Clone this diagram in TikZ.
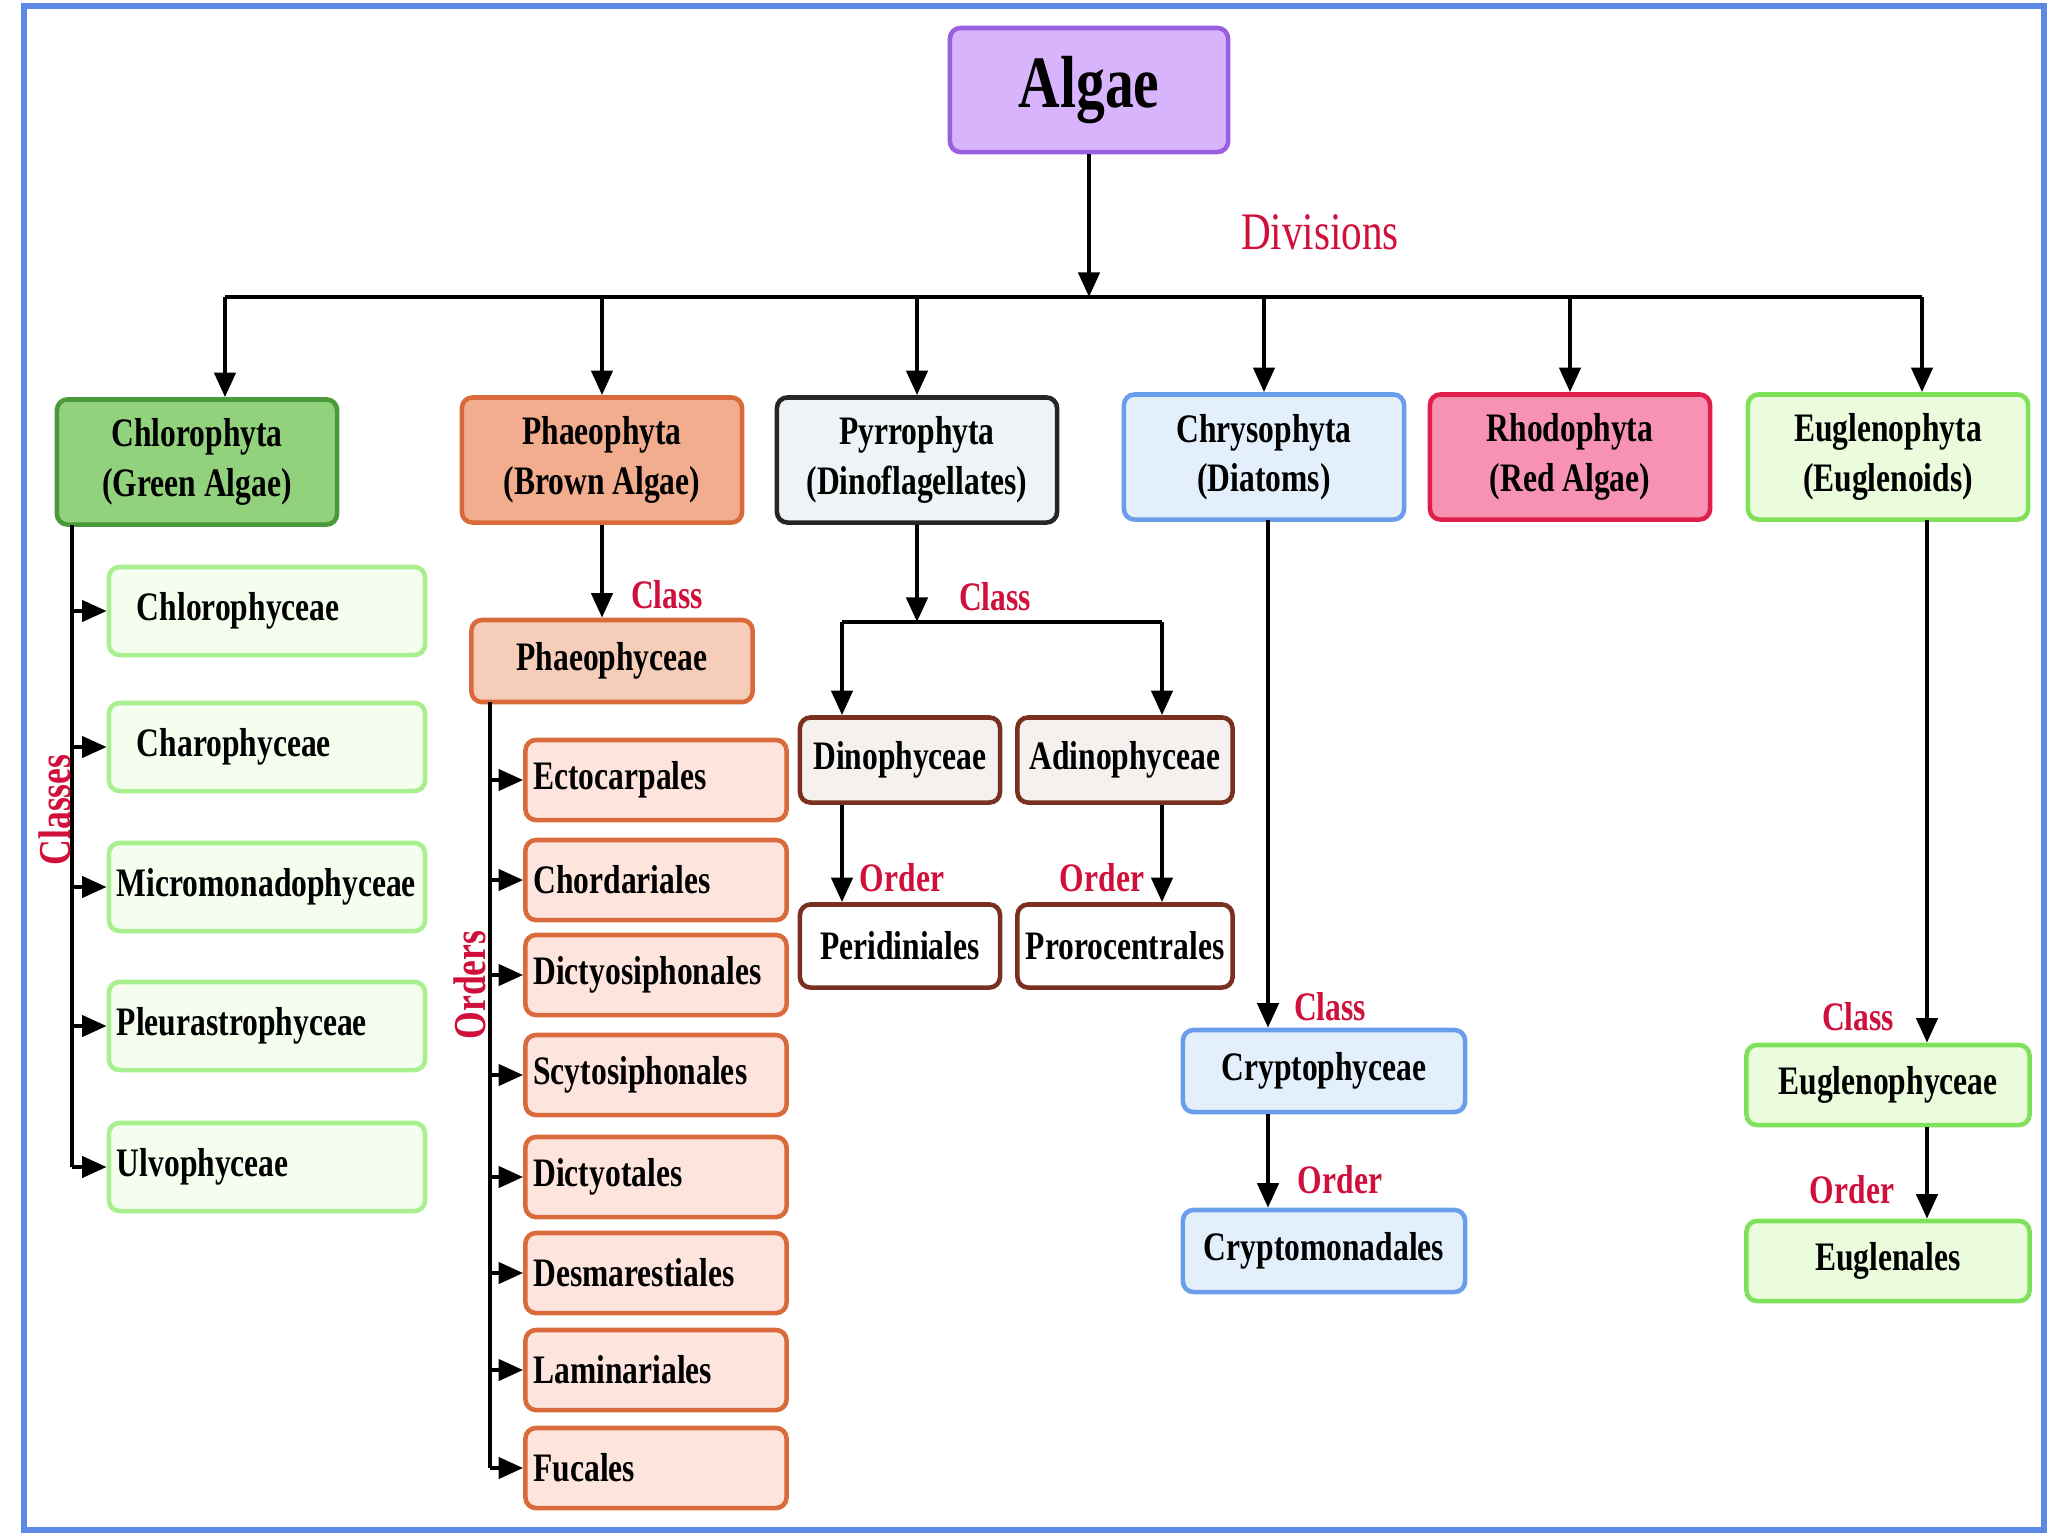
\documentclass[tikz,border=0pt]{standalone}
\usepackage{fontspec}
\setmainfont{Liberation Serif}[FakeStretch=0.78]
\usetikzlibrary{arrows.meta,positioning,calc}
\definecolor{algfill}{HTML}{D8B4FC}\definecolor{algline}{HTML}{9A5FE0}
\definecolor{chlfill}{HTML}{92D27C}\definecolor{chlline}{HTML}{4A9A3A}
\definecolor{clsfill}{HTML}{F5FDEE}\definecolor{clsline}{HTML}{A8EF90}
\definecolor{phafill}{HTML}{F2AC8E}\definecolor{phaline}{HTML}{D96A3C}
\definecolor{phcfill}{HTML}{F6CDB9}\definecolor{ordfill}{HTML}{FDE4DD}
\definecolor{pyrfill}{HTML}{EEF3F6}\definecolor{dinline}{HTML}{7A3020}
\definecolor{dinfill}{HTML}{F5F1EF}
\definecolor{chrfill}{HTML}{E3F0FC}\definecolor{chrline}{HTML}{6A9EEA}
\definecolor{rhofill}{HTML}{F892B2}\definecolor{rholine}{HTML}{E0204A}
\definecolor{eugfill}{HTML}{EBFCDD}\definecolor{eugline}{HTML}{7FE05A}
\definecolor{lblred}{HTML}{D0103A}\definecolor{frame}{HTML}{5A8AE6}
\tikzset{
  box/.style={draw, rounded corners=3pt, line width=1.3pt, align=center,
    font=\fontsize{11.5}{14}\selectfont\bfseries, inner sep=1pt},
  div/.style={box, minimum width=2.8cm, minimum height=1.25cm},
  lbox/.style={box, align=left, text width=#1, inner xsep=0.08cm},
  cls/.style={lbox=3.0cm, fill=clsfill, draw=clsline, minimum height=0.88cm},
  ord/.style={lbox=2.45cm, fill=ordfill, draw=phaline, minimum height=0.8cm},
  lbl/.style={text=lblred, font=\fontsize{11.5}{14}\selectfont\bfseries},
  arr/.style={-{Triangle[length=7pt,width=6pt]}, line width=1.2pt},
  ln/.style={line width=1.2pt}
}
\begin{document}
\begin{tikzpicture}[x=0.01cm, y=-0.01cm]
  \useasboundingbox (0,0) rectangle (2048,1536);
  \fill[white] (0,0) rectangle (2048,1536);
  \draw[frame, line width=1.5pt] (24,6) rectangle (2044,1530);
  % Root
  \node[box, fill=algfill, draw=algline, minimum width=2.78cm, minimum height=1.24cm,
    font=\fontsize{21}{24}\selectfont\bfseries] (algae) at (1089,90) {Algae};
  \node[text=lblred, font=\fontsize{15}{18}\selectfont] (divs) at (1320,232) {Divisions};
  % Divisions
  \node[div, fill=chlfill, draw=chlline] (chl) at (197,462) {Chlorophyta\\(Green Algae)};
  \node[div, fill=phafill, draw=phaline] (pha) at (602,460) {Phaeophyta\\(Brown Algae)};
  \node[div, fill=pyrfill, draw=black!85] (pyr) at (917,460) {Pyrrophyta\\(Dinoflagellates)};
  \node[div, fill=chrfill, draw=chrline] (chr) at (1264,457) {Chrysophyta\\(Diatoms)};
  \node[div, fill=rhofill, draw=rholine] (rho) at (1570,457) {Rhodophyta\\(Red Algae)};
  \node[div, fill=eugfill, draw=eugline] (eug) at (1888,457) {Euglenophyta\\(Euglenoids)};
  % Bus
  \coordinate (bus) at (1089,297);
  \coordinate (bl) at (225,297);
  \coordinate (br) at (1922,297);
  \draw[arr] (algae) -- (bus);
  \draw[ln] (bl) -- (br);
  \draw[arr] (bl) -- (bl |- chl.north);
  \draw[arr] (br) -- (br |- eug.north);
  \foreach \d in {pha,pyr,chr,rho}
    \draw[arr] (\d.north |- bus) -- (\d.north);
  % Chlorophyta classes
  \node[cls] (c1) at (267,611) {\hspace*{0.2cm}Chlorophyceae};
  \node[cls] (c2) at (267,747) {\hspace*{0.2cm}Charophyceae};
  \node[cls] (c3) at (267,887) {Micromonadophyceae};
  \node[cls] (c4) at (267,1026) {Pleurastrophyceae};
  \node[cls] (c5) at (267,1167) {Ulvophyceae};
  \coordinate (crail) at (72,525);
  \draw[ln] (crail) -- (crail |- c5);
  \foreach \c in {c1,c2,c3,c4,c5}
    \draw[arr] (crail |- \c) -- (\c.west);
  \node[lbl, rotate=90, font=\fontsize{13}{15}\selectfont\bfseries] (classes) at (55,810) {Classes};
  % Phaeophyta
  \node[box, fill=phcfill, draw=phaline, minimum width=2.81cm, minimum height=0.82cm] (phc) at (612,661) {Phaeophyceae};
  \draw[arr] (pha.south) -- (pha.south |- phc.north);
  \node[lbl] (phcl) at (667,595) {Class};
  \node[ord] (o1) at (656,780) {Ectocarpales};
  \node[ord] (o2) at (656,880) {Chordariales};
  \node[ord] (o3) at (656,975) {Dictyosiphonales};
  \node[ord] (o4) at (656,1075) {Scytosiphonales};
  \node[ord] (o5) at (656,1177) {Dictyotales};
  \node[ord] (o6) at (656,1273) {Desmarestiales};
  \node[ord] (o7) at (656,1370) {Laminariales};
  \node[ord] (o8) at (656,1468) {Fucales};
  \coordinate (orail) at (490,702);
  \draw[ln] (orail) -- (orail |- o8);
  \foreach \o in {o1,o2,o3,o4,o5,o6,o7,o8}
    \draw[arr] (orail |- \o) -- (\o.west);
  \node[lbl, rotate=90, font=\fontsize{13}{15}\selectfont\bfseries] (orders) at (470,985) {Orders};
  % Pyrrophyta
  \node[box, fill=dinfill, draw=dinline, minimum width=2.0cm, minimum height=0.85cm] (din) at (900,760) {Dinophyceae};
  \node[box, fill=dinfill, draw=dinline, minimum width=2.15cm, minimum height=0.85cm] (adi) at (1125,760) {Adinophyceae};
  \node[box, fill=white, draw=dinline, minimum width=2.0cm, minimum height=0.83cm] (per) at (900,946) {Peridiniales};
  \node[box, fill=white, draw=dinline, minimum width=2.15cm, minimum height=0.83cm] (pro) at (1125,946) {Prorocentrales};
  \coordinate (pbus) at (917,622);
  \coordinate (pl) at (842,622);
  \coordinate (pr) at (1162,622);
  \draw[arr] (pyr.south) -- (pbus);
  \draw[ln] (pl) -- (pr);
  \draw[arr] (pl) -- (pl |- din.north);
  \draw[arr] (pr) -- (pr |- adi.north);
  \draw[arr] (pl |- din.south) -- (pl |- per.north);
  \draw[arr] (pr |- adi.south) -- (pr |- pro.north);
  \node[lbl] (pycl) at (995,597) {Class};
  \node[lbl] (pyo1) at (902,878) {Order};
  \node[lbl] (pyo2) at (1102,878) {Order};
  % Chrysophyta
  \node[box, fill=chrfill, draw=chrline, minimum width=2.82cm, minimum height=0.82cm] (cry) at (1324,1071) {Cryptophyceae};
  \node[box, fill=chrfill, draw=chrline, minimum width=2.82cm, minimum height=0.82cm] (crm) at (1324,1251) {Cryptomonadales};
  \coordinate (chx) at (1268,520);
  \draw[arr] (chx) -- (chx |- cry.north);
  \draw[arr] (chx |- cry.south) -- (chx |- crm.north);
  \node[lbl] (chcl) at (1330,1007) {Class};
  \node[lbl] (chor) at (1340,1180) {Order};
  % Euglenophyta
  \node[box, fill=eugfill, draw=eugline, minimum width=2.83cm, minimum height=0.8cm] (euc) at (1888,1085) {Euglenophyceae};
  \node[box, fill=eugfill, draw=eugline, minimum width=2.83cm, minimum height=0.8cm] (eur) at (1888,1261) {Euglenales};
  \coordinate (eux) at (1927,520);
  \draw[arr] (eux) -- (eux |- euc.north);
  \draw[arr] (eux |- euc.south) -- (eux |- eur.north);
  \node[lbl] (eucl) at (1858,1017) {Class};
  \node[lbl] (euor) at (1852,1190) {Order};
\end{tikzpicture}
\end{document}
